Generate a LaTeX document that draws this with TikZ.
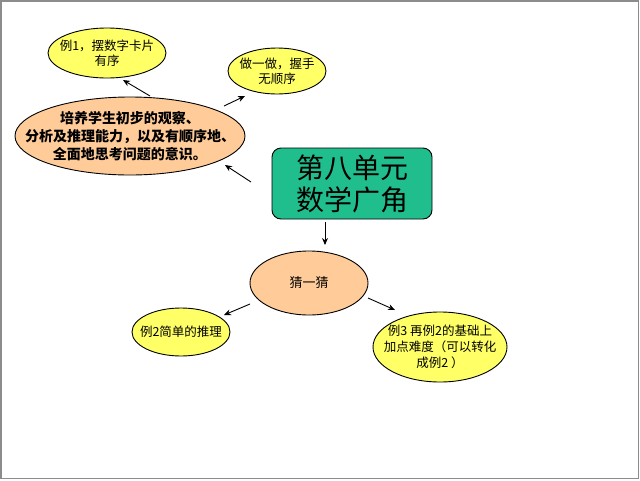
\documentclass[tikz,border=0pt]{standalone}
\usepackage{fontspec}
\setmainfont{Noto Sans CJK SC}
\usetikzlibrary{shapes.geometric,arrows.meta}
\definecolor{ylw}{RGB}{255,255,102}
\definecolor{peach}{RGB}{255,204,153}
\definecolor{grn}{RGB}{32,190,140}
\definecolor{frm}{RGB}{140,140,140}
\tikzset{
  yell/.style={ellipse,draw=black,line width=0.9pt,fill=ylw,inner sep=0pt},
  orng/.style={ellipse,draw=black,line width=0.9pt,fill=peach,inner sep=0pt},
  conn/.style={line width=0.9pt,-{Stealth[length=7pt,width=6pt]}},
  small/.style={align=center,font=\fontsize{12.5}{15}\selectfont},
}
\begin{document}
\begin{tikzpicture}[x=1pt,y=-1pt]
\useasboundingbox (0,0) rectangle (640,480);
\draw[frm,line width=1.2pt] (1,1) rectangle (638.5,478.5);

% central box
\node[draw=black,line width=0.9pt,fill=grn,rounded corners=9pt,minimum width=160pt,minimum height=71pt,inner sep=0pt,align=center,font=\fontsize{28}{32}\selectfont] (center) at (352,183.5) {第八单元\\数学广角};

% big orange ellipse
\node[orng,minimum width=230pt,minimum height=78pt,label={[align=center,font=\fontsize{14}{18}\selectfont\bfseries]center:培养学生初步的观察、\\分析及推理能力，以及有顺序地、\\全面地思考问题的意识。}] (goal) at (130,136) {};

% yellow top ellipses
\node[yell,minimum width=118pt,minimum height=50pt,label={[small]center:例1，摆数字卡片\\有序}] (ex1) at (107,53) {};
\node[yell,minimum width=98pt,minimum height=46pt,label={[small]center:做一做，握手\\无顺序}] (hand) at (277,71) {};

% guess ellipse
\node[orng,minimum width=118pt,minimum height=64pt,label={[font=\fontsize{13}{15}\selectfont]center:猜一猜}] (guess) at (309,283) {};

% bottom yellow ellipses
\node[yell,minimum width=98pt,minimum height=48pt,label={[small]center:例2简单的推理}] (ex2) at (181,332) {};
\node[yell,minimum width=134pt,minimum height=70pt,label={[align=center,font=\fontsize{12.5}{16}\selectfont]center:例3 再例2的基础上\\加点难度（可以转化\\成例2\hspace{3pt}）}] (ex3) at (440,347) {};

% connector endpoints
\coordinate (c1s) at (251,182); \coordinate (c1e) at (225,165);
\coordinate (c2s) at (150,96);  \coordinate (c2e) at (123,80);
\coordinate (c3s) at (224,106); \coordinate (c3e) at (245,96);
\coordinate (c4s) at (325,222); \coordinate (c4e) at (325,245);
\coordinate (c5s) at (250,304); \coordinate (c5e) at (224,315);
\coordinate (c6s) at (368,298); \coordinate (c6e) at (395,310);

\draw[conn] (c1s) -- (c1e);
\draw[conn] (c2s) -- (c2e);
\draw[conn] (c3s) -- (c3e);
\draw[conn] (c4s) -- (c4e);
\draw[conn] (c5s) -- (c5e);
\draw[conn] (c6s) -- (c6e);
\end{tikzpicture}
\end{document}
